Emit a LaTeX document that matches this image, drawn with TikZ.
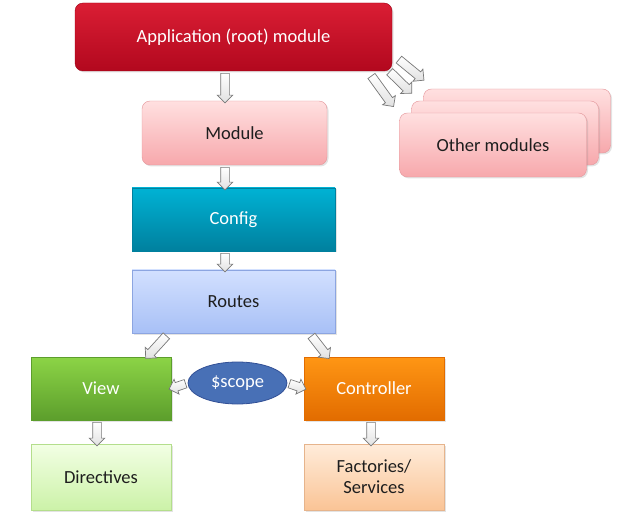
\documentclass[tikz,border=0pt]{standalone}
\usepackage{fontspec}
\setmainfont{Carlito}
\usetikzlibrary{shapes.geometric,shapes.arrows,calc,shadows}
\definecolor{appTop}{RGB}{218,30,52}
\definecolor{appBot}{RGB}{178,8,30}
\definecolor{appLine}{RGB}{160,0,20}
\definecolor{pinkTop}{RGB}{255,224,224}
\definecolor{pinkBot}{RGB}{247,168,172}
\definecolor{pinkLine}{RGB}{228,150,155}
\definecolor{cfgTop}{RGB}{0,178,212}
\definecolor{cfgBot}{RGB}{0,128,158}
\definecolor{rtTop}{RGB}{210,224,255}
\definecolor{rtBot}{RGB}{168,192,246}
\definecolor{rtLine}{RGB}{140,165,225}
\definecolor{vwTop}{RGB}{140,212,70}
\definecolor{vwBot}{RGB}{92,158,44}
\definecolor{ctTop}{RGB}{255,150,20}
\definecolor{ctBot}{RGB}{226,108,0}
\definecolor{drTop}{RGB}{242,255,228}
\definecolor{drBot}{RGB}{204,242,168}
\definecolor{drLine}{RGB}{180,222,140}
\definecolor{fsTop}{RGB}{255,236,218}
\definecolor{fsBot}{RGB}{250,196,150}
\definecolor{fsLine}{RGB}{230,180,140}
\definecolor{scFill}{RGB}{72,112,182}
\definecolor{scLine}{RGB}{50,80,150}
\definecolor{txtDark}{RGB}{30,30,30}
\definecolor{arrLine}{RGB}{120,120,120}
\definecolor{arrFill}{RGB}{225,225,225}
\tikzset{
  box/.style={rectangle, draw, minimum width=#1, font=\fontsize{18.5}{21}\selectfont, align=center,
    drop shadow={opacity=0.22, shadow xshift=1.5pt, shadow yshift=-1.5pt}},
  box/.default=140pt,
  blockarr/.style={single arrow, draw=arrLine, line width=0.7pt, top color=white, bottom color=arrFill,
    inner sep=4pt, single arrow head extend=3.5pt, single arrow head indent=0pt, anchor=center}
}
\newcommand\blockarrow[2]{\path let \p1=($#2-#1$), \n1={atan2(\y1,\x1)}, \n2={veclen(\x1,\y1)} in
  node[blockarr, minimum height=\n2, rotate=\n1] at ($#1!0.5!#2$) {};}
\begin{document}
\begin{tikzpicture}[x=1pt,y=-1pt]
\useasboundingbox (0,0) rectangle (638,516);
% Other modules stack
\node[box=187pt, minimum height=64pt, rounded corners=8pt, top color=pinkTop, bottom color=pinkBot, draw=pinkLine] (back) at (517,121) {};
\node[box=187pt, minimum height=64pt, rounded corners=8pt, top color=pinkTop, bottom color=pinkBot, draw=pinkLine] (mid) at (505,133) {};
\node[box=187pt, minimum height=64pt, rounded corners=8pt, top color=pinkTop, bottom color=pinkBot, draw=pinkLine, text=txtDark] (front) at (493,145) {Other modules};
% main column
\node[box=317pt, minimum height=68pt, rounded corners=8pt, top color=appTop, bottom color=appBot, draw=appLine, text=white] (app) at (233.5,37) {Application (root) module};
\node[box=185pt, minimum height=64pt, rounded corners=8pt, top color=pinkTop, bottom color=pinkBot, draw=pinkLine, text=txtDark] (mod) at (234.5,133) {Module};
\node[box=203pt, minimum height=63pt, top color=cfgTop, bottom color=cfgBot, draw=cfgBot, text=white] (cfg) at (233.5,219.5) {Config};
\node[box=203pt, minimum height=63pt, top color=rtTop, bottom color=rtBot, draw=rtLine, text=txtDark] (routes) at (233.5,301.5) {Routes};
\node[box, minimum height=63pt, top color=vwTop, bottom color=vwBot, draw=vwBot, text=white] (view) at (101,388.5) {View};
\node[box, minimum height=63pt, top color=ctTop, bottom color=ctBot, draw=ctBot, text=white] (ctrl) at (374,388.5) {Controller};
\node[box, minimum height=66pt, top color=drTop, bottom color=drBot, draw=drLine, text=txtDark] (dir) at (101,477) {Directives};
\node[box, minimum height=66pt, top color=fsTop, bottom color=fsBot, draw=fsLine, text=txtDark] (fs) at (374,477) {Factories/\\Services};
\node[ellipse, draw=scLine, line width=0.8pt, fill=scFill, minimum width=99pt, minimum height=42pt, inner sep=0pt, text=white, font=\fontsize{18.5}{21}\selectfont] (scope) at (237.5,383) {\$scope};
% arrows
\blockarrow{($(app.south)+(-8.5,0)$)}{($(mod.north)+(-9.5,0)$)}
\blockarrow{($(mod.south)+(-9.5,0)$)}{($(cfg.north)+(-8.5,0)$)}
\blockarrow{($(cfg.south)+(-8.5,0)$)}{($(routes.north)+(-8.5,0)$)}
\blockarrow{($(routes.south west)+(36,1)$)}{($(view.north east)+(-24,0)$)}
\blockarrow{($(routes.south east)+(-25,1)$)}{($(ctrl.north west)+(24,0)$)}
\blockarrow{(scope.west)}{(view.east)}
\blockarrow{(scope.east)}{(ctrl.west)}
\blockarrow{($(view.south)+(-4,0)$)}{($(dir.north)+(-4,0)$)}
\blockarrow{($(ctrl.south)+(-3,0)$)}{($(fs.north)+(-3,0)$)}
\blockarrow{($(app.south east)+(-22,3)$)}{($(front.north west)+(-7,-8)$)}
\blockarrow{($(app.south east)+(-4,-1)$)}{($(mid.north west)+(-1,-9)$)}
\blockarrow{($(app.south east)+(5,-13)$)}{($(back.north west)+(-1,-10)$)}
\end{tikzpicture}
\end{document}
